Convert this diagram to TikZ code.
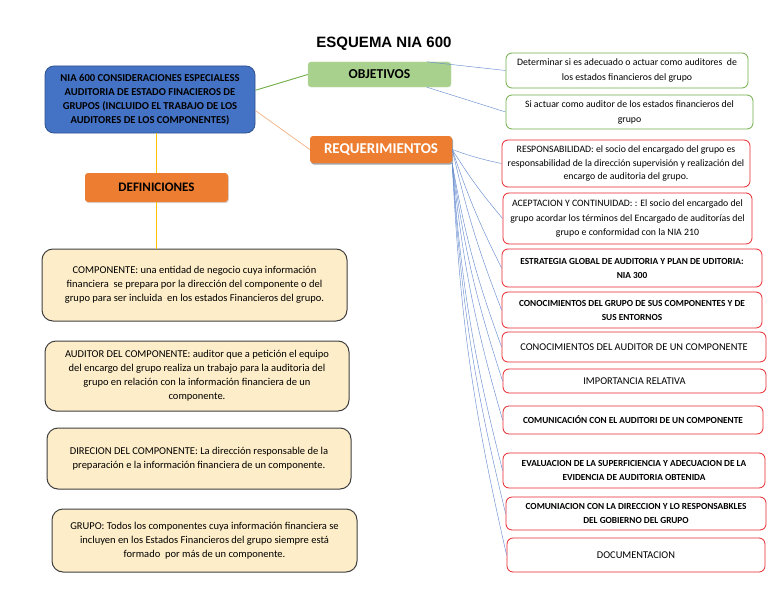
\documentclass[tikz,border=0pt]{standalone}
\usepackage{fontspec}
\setmainfont{Carlito}
\newfontfamily\titlefont{Liberation Sans}
\usetikzlibrary{shadows}

\definecolor{mainblue}{HTML}{4472C4}
\definecolor{darkblue}{HTML}{2F528F}
\definecolor{objgreen}{HTML}{A9D18E}
\definecolor{boxgreen}{HTML}{70AD47}
\definecolor{reqorange}{HTML}{ED7D31}
\definecolor{defcream}{HTML}{FDEDC8}
\definecolor{boxred}{HTML}{E8262B}
\definecolor{linegold}{HTML}{FFC000}
\definecolor{lineorange}{HTML}{F4B183}

\tikzset{
  mainbox/.style={draw=darkblue, fill=mainblue, rounded corners=9pt, align=center,
    font=\fontsize{10.6}{14}\selectfont\bfseries, line width=0.8pt, inner sep=1pt},
  headbox/.style={rounded corners=3pt, align=center, font=\bfseries},
  defbox/.style={draw=black!75, fill=defcream, rounded corners=11pt, line width=1pt,
    align=center, font=\fontsize{10.5}{14}\selectfont, inner sep=1pt},
  objbox/.style={draw=boxgreen, fill=white, rounded corners=6pt, line width=0.8pt,
    align=center, font=\fontsize{9.8}{15}\selectfont, inner sep=1pt},
  reqbox/.style={draw=boxred, fill=white, rounded corners=6pt, line width=0.8pt,
    align=center, font=\fontsize{9.8}{14}\selectfont, inner sep=1pt},
  capbox/.style={reqbox, font=\fontsize{9.3}{14}\selectfont\bfseries},
  plainbox/.style={reqbox, font=\fontsize{10.4}{12}\selectfont},
  bluelink/.style={draw=mainblue!80, line width=0.45pt},
}

\begin{document}
\begin{tikzpicture}[x=1pt, y=-1pt]
  \useasboundingbox[fill=white] (0,0) rectangle (768,594);

  % Title
  \node (title) at (384,44) {\titlefont\fontsize{15}{17}\selectfont\bfseries ESQUEMA NIA 600};

  % Main topic and branches
  \node[mainbox, minimum width=210, minimum height=67] (main) at (150,99.5)
    {NIA 600 CONSIDERACIONES ESPECIALESS\\AUDITORIA DE ESTADO FINACIEROS DE\\
     GRUPOS (INCLUIDO EL TRABAJO DE LOS\\AUDITORES DE LOS COMPONENTES)};
  \node[headbox, draw=objgreen!80!white, fill=objgreen, minimum width=143, minimum height=25,
    font=\fontsize{13.6}{14}\selectfont\bfseries, inner sep=1pt] (obj) at (379.5,74.5) {OBJETIVOS};
  \node[headbox, fill=reqorange, text=white, minimum width=142, minimum height=27,
    font=\fontsize{15}{16}\selectfont\bfseries, inner sep=1pt,
    drop shadow={shadow xshift=1pt, shadow yshift=-1.6pt, opacity=0.7}] (req) at (381,149.5) {REQUERIMIENTOS};
  \node[headbox, fill=reqorange, minimum width=143, minimum height=29,
    font=\fontsize{13}{14}\selectfont\bfseries,
    drop shadow={shadow xshift=0.8pt, shadow yshift=-1pt, opacity=0.3}] (defi) at (156.5,187.5) {DEFINICIONES};

  % Definitions
  \node[defbox, minimum width=305, minimum height=72] (d1) at (194.5,285)
    {COMPONENTE: una entidad de negocio cuya información\\financiera \ se prepara por la dirección del componente o del\\
     grupo para ser incluida \ en los estados Financieros del grupo.};
  \node[defbox, minimum width=304, minimum height=70] (d2) at (197,376)
    {AUDITOR DEL COMPONENTE: auditor que a petición el equipo\\del encargo del grupo realiza un trabajo para la auditoria del\\
     grupo en relación con la información financiera de un\\componente.};
  \node[defbox, minimum width=304, minimum height=61] (d3) at (199,458.5)
    {DIRECION DEL COMPONENTE: La dirección responsable de la\\preparación e la información financiera de un componente.};
  \node[defbox, minimum width=305, minimum height=63] (d4) at (204.5,540.5)
    {GRUPO: Todos los componentes cuya información financiera se\\incluyen en los Estados Financieros del grupo siempre está\\
     formado \ por más de un componente.};

  % Objectives
  \node[objbox, minimum width=242, minimum height=35] (g1) at (627,70.5)
    {Determinar si es adecuado o actuar como auditores \ de\\los estados financieros del grupo};
  \node[objbox, minimum width=247, minimum height=34] (g2) at (629.5,112)
    {Si actuar como auditor de los estados financieros del\\grupo};

  % Requirements
  \node[reqbox, minimum width=248, minimum height=47, font=\fontsize{9.8}{13.5}\selectfont] (r1) at (626,163.5)
    {RESPONSABILIDAD: el socio del encargado del grupo es\\responsabilidad de la dirección supervisión y realización del\\
     encargo de auditoria del grupo.};
  \node[reqbox, minimum width=249, minimum height=51, font=\fontsize{9.8}{14.5}\selectfont] (r2) at (627.5,218.5)
    {ACEPTACION Y CONTINUIDAD: : El socio del encargado del\\grupo acordar los términos del Encargado de auditorías del\\
     grupo e conformidad con la NIA 210};
  \node[capbox, minimum width=260, minimum height=38] (r3) at (632,268)
    {ESTRATEGIA GLOBAL DE AUDITORIA Y PLAN DE UDITORIA:\\NIA 300};
  \node[capbox, minimum width=260, minimum height=36] (r4) at (632,310)
    {CONOCIMIENTOS DEL GRUPO DE SUS COMPONENTES Y DE\\SUS ENTORNOS};
  \node[plainbox, minimum width=264, minimum height=30] (r5) at (634,347)
    {CONOCIMIENTOS DEL AUDITOR DE UN COMPONENTE};
  \node[plainbox, minimum width=263, minimum height=24] (r6) at (634.5,381)
    {IMPORTANCIA RELATIVA};
  \node[capbox, minimum width=260, minimum height=28] (r7) at (633,420)
    {COMUNICACIÓN CON EL AUDITORI DE UN COMPONENTE};
  \node[capbox, minimum width=262, minimum height=35] (r8) at (634,470.5)
    {EVALUACION DE LA SUPERFICIENCIA Y ADECUACION DE LA\\EVIDENCIA DE AUDITORIA OBTENIDA};
  \node[capbox, minimum width=260, minimum height=33] (r9) at (636,513.5)
    {COMUNIACION CON LA DIRECCION Y LO RESPONSABKLES\\DEL GOBIERNO DEL GRUPO};
  \node[plainbox, minimum width=258, minimum height=34] (r10) at (636,555)
    {DOCUMENTACION};

  % Connectors
  \draw[boxgreen, line width=0.9pt] (main.5) -- (obj.west);
  \draw[lineorange, line width=0.7pt] (main.-6) -- (req.west);
  \draw[linegold, line width=0.9pt] (defi.north) -- (defi.north |- main.south);
  \draw[linegold, line width=0.9pt] (defi.south) -- (defi.south |- d1.north);
  \draw[bluelink] (obj.15) -- (g1.west);
  \draw[bluelink] (obj.-15) -- (g2.west);
  \foreach \i in {1,...,4}
    \draw[bluelink] (req.east) to[bend right=4] (r\i.west);
  \foreach \i in {5,...,10}
    \draw[bluelink] (req.south east) to[bend right=5] (r\i.west);
\end{tikzpicture}
\end{document}
